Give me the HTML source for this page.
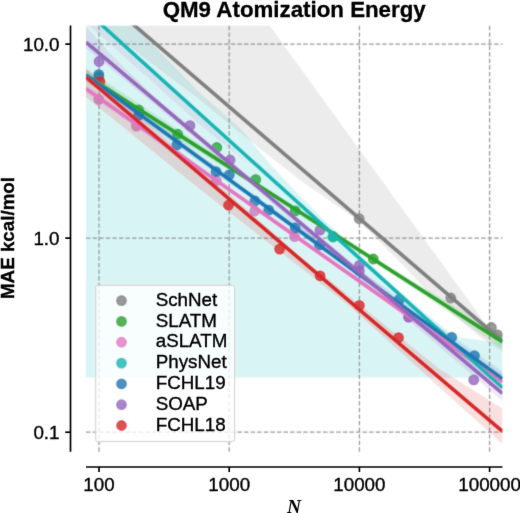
<!DOCTYPE html>
<html><head><meta charset="utf-8"><style>
html,body{margin:0;padding:0;background:#fff;}
svg{display:block;}
</style></head><body>
<svg width="520" height="513" viewBox="0 0 520 513">
<defs><filter id="bl" filterUnits="userSpaceOnUse" x="0" y="0" width="520" height="513"><feConvolveMatrix order="3" kernelMatrix="0.0277 0.1110 0.0277 0.1110 0.4452 0.1110 0.0277 0.1110 0.0277" edgeMode="duplicate"/></filter><filter id="bt" filterUnits="userSpaceOnUse" x="0" y="0" width="520" height="513"><feConvolveMatrix order="3" kernelMatrix="0.0052 0.0619 0.0052 0.0619 0.7314 0.0619 0.0052 0.0619 0.0052" edgeMode="duplicate"/></filter><clipPath id="pa"><rect x="86.0" y="25.5" width="416.5" height="426.2"/></clipPath></defs>
<rect width="520" height="513" fill="#fff"/>
<g filter="url(#bl)">
<g stroke="#969696" stroke-width="1.25" stroke-dasharray="4.4 2.185">
<line x1="99.0" y1="451.7" x2="99.0" y2="25.5"/>
<line x1="229.2" y1="451.7" x2="229.2" y2="25.5"/>
<line x1="359.4" y1="451.7" x2="359.4" y2="25.5"/>
<line x1="489.6" y1="451.7" x2="489.6" y2="25.5"/>
<line x1="86.0" y1="44.1" x2="502.5" y2="44.1"/>
<line x1="86.0" y1="238.1" x2="502.5" y2="238.1"/>
<line x1="86.0" y1="432.2" x2="502.5" y2="432.2"/>
</g>
<g clip-path="url(#pa)">
<circle cx="359.2" cy="218.7" r="4.75" fill="#7f7f7f" fill-opacity="0.8" stroke="#7f7f7f" stroke-opacity="0.8" stroke-width="1.3"/>
<circle cx="450.8" cy="298.0" r="4.75" fill="#7f7f7f" fill-opacity="0.8" stroke="#7f7f7f" stroke-opacity="0.8" stroke-width="1.3"/>
<circle cx="491.4" cy="327.5" r="4.75" fill="#7f7f7f" fill-opacity="0.8" stroke="#7f7f7f" stroke-opacity="0.8" stroke-width="1.3"/>
<circle cx="497.7" cy="335.0" r="4.75" fill="#7f7f7f" fill-opacity="0.8" stroke="#7f7f7f" stroke-opacity="0.8" stroke-width="1.3"/>
<polygon points="101.5,25.5 269.5,25.5 490.0,330.0 502.5,337.0 502.5,352.0 480.0,337.0 430.0,294.0 400.0,262.0 360.0,222.0 340.0,208.0 300.0,180.0 270.0,156.5 240.0,133.0 200.0,100.0" fill="#7f7f7f" fill-opacity="0.150"/>
<circle cx="98.8" cy="77.0" r="4.75" fill="#2ca02c" fill-opacity="0.8" stroke="#2ca02c" stroke-opacity="0.8" stroke-width="1.3"/>
<circle cx="138.7" cy="110.0" r="4.75" fill="#2ca02c" fill-opacity="0.8" stroke="#2ca02c" stroke-opacity="0.8" stroke-width="1.3"/>
<circle cx="177.7" cy="134.2" r="4.75" fill="#2ca02c" fill-opacity="0.8" stroke="#2ca02c" stroke-opacity="0.8" stroke-width="1.3"/>
<circle cx="216.8" cy="147.5" r="4.75" fill="#2ca02c" fill-opacity="0.8" stroke="#2ca02c" stroke-opacity="0.8" stroke-width="1.3"/>
<circle cx="255.7" cy="179.6" r="4.75" fill="#2ca02c" fill-opacity="0.8" stroke="#2ca02c" stroke-opacity="0.8" stroke-width="1.3"/>
<circle cx="295.2" cy="210.9" r="4.75" fill="#2ca02c" fill-opacity="0.8" stroke="#2ca02c" stroke-opacity="0.8" stroke-width="1.3"/>
<circle cx="333.0" cy="237.0" r="4.75" fill="#2ca02c" fill-opacity="0.8" stroke="#2ca02c" stroke-opacity="0.8" stroke-width="1.3"/>
<circle cx="373.3" cy="259.0" r="4.75" fill="#2ca02c" fill-opacity="0.8" stroke="#2ca02c" stroke-opacity="0.8" stroke-width="1.3"/>
<polygon points="86.0,68.3 250.0,177.3 400.0,273.3 502.5,334.9 502.5,348.9 400.0,279.3 250.0,183.3 86.0,82.3" fill="#2ca02c" fill-opacity="0.150"/>
<circle cx="98.8" cy="99.5" r="4.75" fill="#e377c2" fill-opacity="0.8" stroke="#e377c2" stroke-opacity="0.8" stroke-width="1.3"/>
<circle cx="136.4" cy="126.2" r="4.75" fill="#e377c2" fill-opacity="0.8" stroke="#e377c2" stroke-opacity="0.8" stroke-width="1.3"/>
<circle cx="216.3" cy="180.5" r="4.75" fill="#e377c2" fill-opacity="0.8" stroke="#e377c2" stroke-opacity="0.8" stroke-width="1.3"/>
<circle cx="254.7" cy="211.0" r="4.75" fill="#e377c2" fill-opacity="0.8" stroke="#e377c2" stroke-opacity="0.8" stroke-width="1.3"/>
<circle cx="294.5" cy="236.6" r="4.75" fill="#e377c2" fill-opacity="0.8" stroke="#e377c2" stroke-opacity="0.8" stroke-width="1.3"/>
<circle cx="408.6" cy="317.2" r="4.75" fill="#e377c2" fill-opacity="0.8" stroke="#e377c2" stroke-opacity="0.8" stroke-width="1.3"/>
<polygon points="86.0,83.7 250.0,201.2 400.0,306.8 502.5,373.9 502.5,389.9 400.0,312.8 250.0,207.2 86.0,92.7" fill="#e377c2" fill-opacity="0.150"/>
<circle cx="333.0" cy="236.5" r="4.75" fill="#17b4b4" fill-opacity="0.8" stroke="#17b4b4" stroke-opacity="0.8" stroke-width="1.3"/>
<polygon points="86.0,25.5 134.5,25.5 200.0,93.0 240.0,128.0 270.0,164.0 300.0,196.0 320.0,216.0 338.0,233.0 400.0,292.0 455.0,337.0 502.5,343.0 502.5,377.5 86.0,377.5" fill="#17b4b4" fill-opacity="0.150"/>
<polygon points="86.0,12.8 200.0,116.0 250.0,165.2 200.0,125.0 86.0,22.8" fill="#9467bd" fill-opacity="0.12"/>
<circle cx="98.8" cy="74.6" r="4.75" fill="#1f77b4" fill-opacity="0.8" stroke="#1f77b4" stroke-opacity="0.8" stroke-width="1.3"/>
<circle cx="138.7" cy="115.3" r="4.75" fill="#1f77b4" fill-opacity="0.8" stroke="#1f77b4" stroke-opacity="0.8" stroke-width="1.3"/>
<circle cx="176.9" cy="144.9" r="4.75" fill="#1f77b4" fill-opacity="0.8" stroke="#1f77b4" stroke-opacity="0.8" stroke-width="1.3"/>
<circle cx="216.1" cy="171.7" r="4.75" fill="#1f77b4" fill-opacity="0.8" stroke="#1f77b4" stroke-opacity="0.8" stroke-width="1.3"/>
<circle cx="229.3" cy="174.8" r="4.75" fill="#1f77b4" fill-opacity="0.8" stroke="#1f77b4" stroke-opacity="0.8" stroke-width="1.3"/>
<circle cx="254.9" cy="201.0" r="4.75" fill="#1f77b4" fill-opacity="0.8" stroke="#1f77b4" stroke-opacity="0.8" stroke-width="1.3"/>
<circle cx="268.7" cy="210.1" r="4.75" fill="#1f77b4" fill-opacity="0.8" stroke="#1f77b4" stroke-opacity="0.8" stroke-width="1.3"/>
<circle cx="295.2" cy="228.0" r="4.75" fill="#1f77b4" fill-opacity="0.8" stroke="#1f77b4" stroke-opacity="0.8" stroke-width="1.3"/>
<circle cx="319.5" cy="245.0" r="4.75" fill="#1f77b4" fill-opacity="0.8" stroke="#1f77b4" stroke-opacity="0.8" stroke-width="1.3"/>
<circle cx="399.4" cy="299.4" r="4.75" fill="#1f77b4" fill-opacity="0.8" stroke="#1f77b4" stroke-opacity="0.8" stroke-width="1.3"/>
<circle cx="451.7" cy="337.3" r="4.75" fill="#1f77b4" fill-opacity="0.8" stroke="#1f77b4" stroke-opacity="0.8" stroke-width="1.3"/>
<circle cx="474.5" cy="355.7" r="4.75" fill="#1f77b4" fill-opacity="0.8" stroke="#1f77b4" stroke-opacity="0.8" stroke-width="1.3"/>
<polygon points="86.0,69.2 250.0,191.8 320.0,240.8 400.0,299.1 502.5,371.8 502.5,385.8 400.0,307.1 250.0,197.8 86.0,81.2" fill="#1f77b4" fill-opacity="0.150"/>
<circle cx="99.0" cy="61.5" r="4.75" fill="#9467bd" fill-opacity="0.8" stroke="#9467bd" stroke-opacity="0.8" stroke-width="1.3"/>
<circle cx="190.0" cy="125.6" r="4.75" fill="#9467bd" fill-opacity="0.8" stroke="#9467bd" stroke-opacity="0.8" stroke-width="1.3"/>
<circle cx="230.1" cy="160.0" r="4.75" fill="#9467bd" fill-opacity="0.8" stroke="#9467bd" stroke-opacity="0.8" stroke-width="1.3"/>
<circle cx="320.0" cy="230.1" r="4.75" fill="#9467bd" fill-opacity="0.8" stroke="#9467bd" stroke-opacity="0.8" stroke-width="1.3"/>
<circle cx="359.4" cy="265.3" r="4.75" fill="#9467bd" fill-opacity="0.8" stroke="#9467bd" stroke-opacity="0.8" stroke-width="1.3"/>
<circle cx="359.4" cy="271.0" r="4.75" fill="#9467bd" fill-opacity="0.8" stroke="#9467bd" stroke-opacity="0.8" stroke-width="1.3"/>
<circle cx="408.6" cy="317.2" r="4.75" fill="#9467bd" fill-opacity="0.8" stroke="#9467bd" stroke-opacity="0.8" stroke-width="1.3"/>
<circle cx="473.7" cy="379.9" r="4.75" fill="#9467bd" fill-opacity="0.8" stroke="#9467bd" stroke-opacity="0.8" stroke-width="1.3"/>
<polygon points="86.0,26.2 110.0,53.4 150.0,92.2 250.0,177.5 400.0,302.9 502.5,385.3 502.5,401.3 400.0,312.9 320.0,245.5 250.0,183.5 86.0,48.2" fill="#9467bd" fill-opacity="0.150"/>
<circle cx="100.0" cy="81.5" r="4.75" fill="#d62728" fill-opacity="0.8" stroke="#d62728" stroke-opacity="0.8" stroke-width="1.3"/>
<circle cx="228.5" cy="205.2" r="4.75" fill="#d62728" fill-opacity="0.8" stroke="#d62728" stroke-opacity="0.8" stroke-width="1.3"/>
<circle cx="279.6" cy="249.1" r="4.75" fill="#d62728" fill-opacity="0.8" stroke="#d62728" stroke-opacity="0.8" stroke-width="1.3"/>
<circle cx="320.1" cy="275.8" r="4.75" fill="#d62728" fill-opacity="0.8" stroke="#d62728" stroke-opacity="0.8" stroke-width="1.3"/>
<circle cx="359.4" cy="305.4" r="4.75" fill="#d62728" fill-opacity="0.8" stroke="#d62728" stroke-opacity="0.8" stroke-width="1.3"/>
<circle cx="398.6" cy="337.6" r="4.75" fill="#d62728" fill-opacity="0.8" stroke="#d62728" stroke-opacity="0.8" stroke-width="1.3"/>
<polygon points="86.0,69.2 186.0,156.2 300.0,256.2 440.0,369.2 502.5,408.8 502.5,444.0 440.0,387.7 350.0,306.7 300.0,267.2 250.0,228.6 186.0,178.2 136.0,137.7 86.0,97.2" fill="#d62728" fill-opacity="0.150"/>
<line x1="86.0" y1="-16.10" x2="502.5" y2="341.26" stroke="#7f7f7f" stroke-width="3.6"/>
<line x1="86.0" y1="75.30" x2="502.5" y2="341.86" stroke="#2ca02c" stroke-width="3.6"/>
<line x1="86.0" y1="88.70" x2="502.5" y2="381.92" stroke="#e377c2" stroke-width="3.6"/>
<line x1="86.0" y1="10.80" x2="502.5" y2="387.73" stroke="#17b4b4" stroke-width="3.6"/>
<line x1="86.0" y1="75.20" x2="502.5" y2="378.83" stroke="#1f77b4" stroke-width="3.6"/>
<line x1="86.0" y1="42.20" x2="502.5" y2="393.31" stroke="#9467bd" stroke-width="3.6"/>
<line x1="86.0" y1="77.20" x2="502.5" y2="431.35" stroke="#d62728" stroke-width="3.6"/>
</g>
<rect x="95.7" y="285.2" width="138.9" height="156.3" rx="2" ry="2" fill="#fff" fill-opacity="0.8" stroke="#cccccc" stroke-width="1"/>
<circle cx="121.5" cy="300.6" r="4.75" fill="#7f7f7f" fill-opacity="0.8" stroke="#7f7f7f" stroke-opacity="0.8" stroke-width="1.3"/>
<circle cx="121.5" cy="321.4" r="4.75" fill="#2ca02c" fill-opacity="0.8" stroke="#2ca02c" stroke-opacity="0.8" stroke-width="1.3"/>
<circle cx="121.5" cy="342.2" r="4.75" fill="#e377c2" fill-opacity="0.8" stroke="#e377c2" stroke-opacity="0.8" stroke-width="1.3"/>
<circle cx="121.5" cy="363.1" r="4.75" fill="#17b4b4" fill-opacity="0.8" stroke="#17b4b4" stroke-opacity="0.8" stroke-width="1.3"/>
<circle cx="121.5" cy="383.9" r="4.75" fill="#1f77b4" fill-opacity="0.8" stroke="#1f77b4" stroke-opacity="0.8" stroke-width="1.3"/>
<circle cx="121.5" cy="404.7" r="4.75" fill="#9467bd" fill-opacity="0.8" stroke="#9467bd" stroke-opacity="0.8" stroke-width="1.3"/>
<circle cx="121.5" cy="425.5" r="4.75" fill="#d62728" fill-opacity="0.8" stroke="#d62728" stroke-opacity="0.8" stroke-width="1.3"/>
</g>
<g filter="url(#bt)">
<g stroke="#000" stroke-width="1.7" fill="none">
<line x1="70.5" y1="25.5" x2="70.5" y2="451.7"/>
<line x1="86.0" y1="467" x2="502.5" y2="467"/>
<line x1="65.3" y1="44.1" x2="70.5" y2="44.1"/>
<line x1="65.3" y1="238.1" x2="70.5" y2="238.1"/>
<line x1="65.3" y1="432.2" x2="70.5" y2="432.2"/>
<line x1="99.0" y1="467" x2="99.0" y2="472"/>
<line x1="229.2" y1="467" x2="229.2" y2="472"/>
<line x1="359.4" y1="467" x2="359.4" y2="472"/>
<line x1="489.6" y1="467" x2="489.6" y2="472"/>
</g>
<g font-family="Liberation Sans, Arial, sans-serif" font-size="18.8" fill="#000" stroke="#000" stroke-width="0.35">
<text x="59.5" y="51.3" text-anchor="end">10.0</text>
<text x="59.5" y="245.3" text-anchor="end">1.0</text>
<text x="59.5" y="439.4" text-anchor="end">0.1</text>
<text x="99.0" y="491" text-anchor="middle">100</text>
<text x="229.2" y="491" text-anchor="middle">1000</text>
<text x="359.4" y="491" text-anchor="middle">10000</text>
<text x="489.6" y="491" text-anchor="middle">100000</text>
</g>
<text x="294.2" y="16.5" text-anchor="middle" font-family="Liberation Sans, Arial, sans-serif" font-size="22.3" font-weight="bold" stroke="#000" stroke-width="0.3">QM9 Atomization Energy</text>
<text transform="translate(14,238) rotate(-90)" text-anchor="middle" font-family="Liberation Sans, Arial, sans-serif" font-size="18.8" font-weight="bold" stroke="#000" stroke-width="0.3">MAE kcal/mol</text>
<text x="294.0" y="513" text-anchor="middle" font-family="Liberation Serif, Times New Roman, serif" font-size="19.5" font-weight="bold" font-style="italic">N</text>
<g font-family="Liberation Sans, Arial, sans-serif" font-size="18.8" fill="#000" stroke="#000" stroke-width="0.35">
<text x="155.7" y="305.8">SchNet</text>
<text x="155.7" y="326.6">SLATM</text>
<text x="155.7" y="347.4">aSLATM</text>
<text x="155.7" y="368.3">PhysNet</text>
<text x="155.7" y="389.1">FCHL19</text>
<text x="155.7" y="409.9">SOAP</text>
<text x="155.7" y="430.7">FCHL18</text>
</g>
</g></svg>
</body></html>
